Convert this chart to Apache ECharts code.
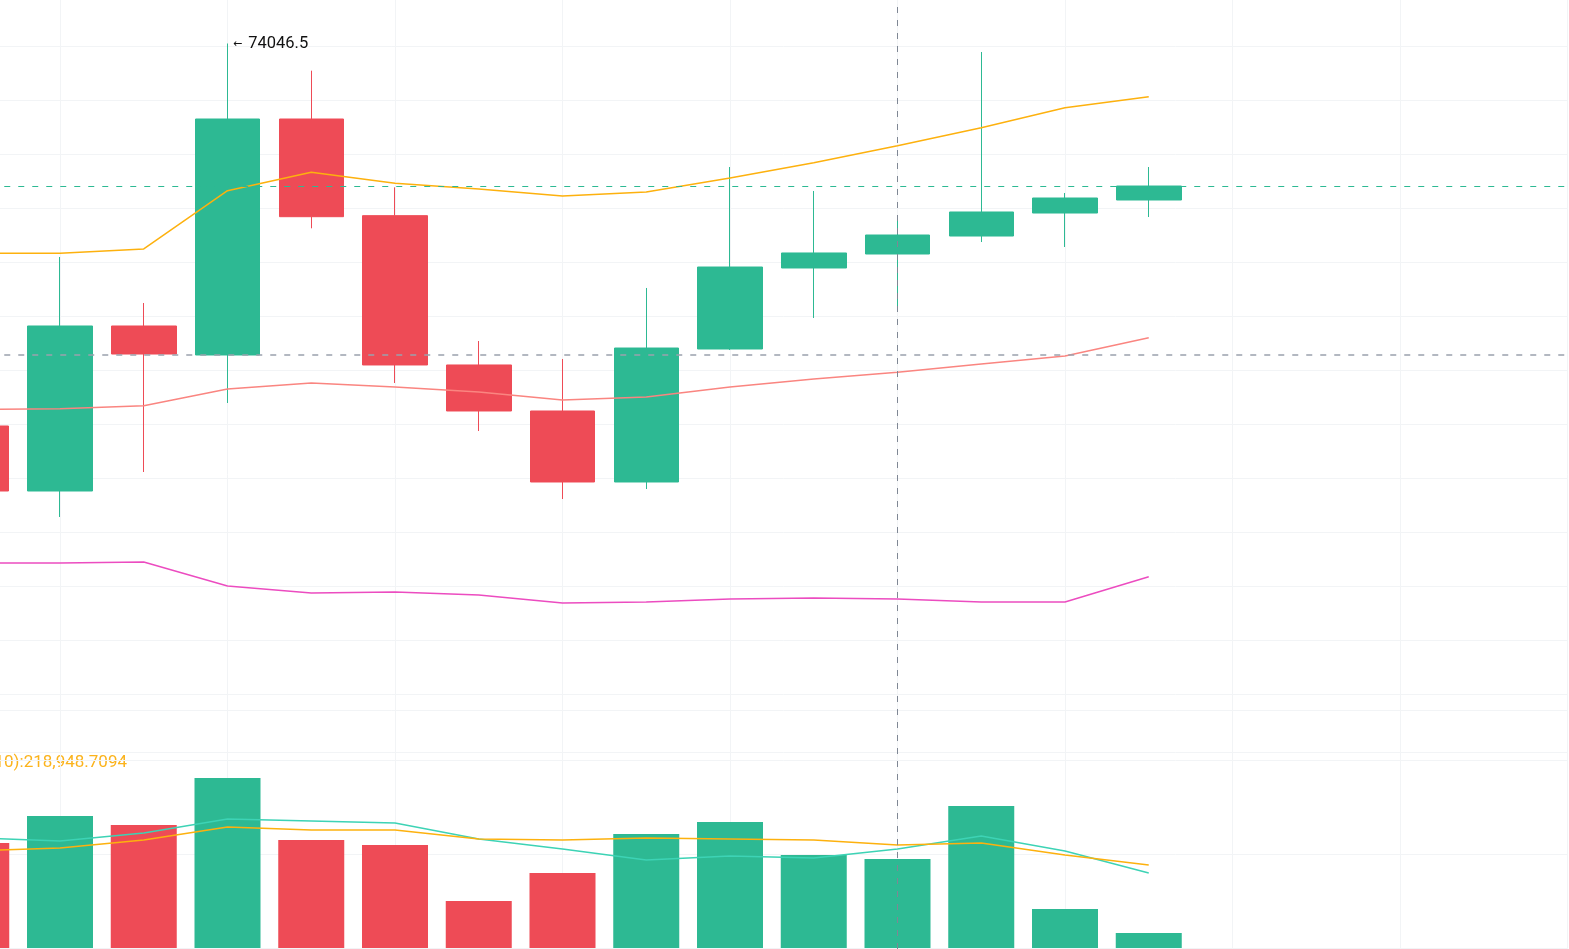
<!DOCTYPE html>
<html>
<head>
<meta charset="utf-8">
<script src="https://cdn.jsdelivr.net/npm/echarts@6/dist/echarts.min.js"></script>
<style>
  html, body { margin: 0; padding: 0; background: #fff; }
  #chart { width: 1569px; height: 949px; }
</style>
</head>
<body>
<div id="chart"></div>
<script>
// slots on the x axis, the last five are empty space to the right
var categories = ['0', '1', '2', '3', '4', '5', '6', '7', '8', '9', '10', '11', '12', '13', '14', '15', '16', '17', '18', '19']

var opens = [66963, 65759, 68815, 68278, 72648, 70858, 68093, 67241, 65926, 68389, 69889, 70148, 70481, 70907, 71148]
var closes = [65759, 68815, 68296, 72648, 70839, 68093, 67241, 65926, 68407, 69907, 70167, 70500, 70926, 71185, 71407]
var lows = [65500, 65278, 66111, 67389, 70624, 67759, 66870, 65611, 65796, 68370, 68963, 69185, 70370, 70278, 70833]
var highs = [67200, 70093, 69241, 74046.5, 73543, 71383, 68537, 68204, 69519, 71759, 71315, 70759, 73889, 71278, 71759]

var maOrange = [70161, 70161, 70241, 71320, 71661, 71457, 71352, 71222, 71296, 71556, 71839, 72154, 72487, 72857, 73061]
var maSalmon = [67272, 67283, 67339, 67648, 67759, 67685, 67593, 67444, 67500, 67685, 67833, 67957, 68111, 68259, 68598]
var maPink = [64426, 64426, 64444, 64000, 63870, 63889, 63833, 63685, 63704, 63759, 63778, 63759, 63704, 63704, 64172]

var volumes = [223404, 280851, 261702, 361702, 229787, 219149, 100000, 159574, 242553, 268085, 197872, 189362, 302128, 82979, 31915]
var volMaTeal = [234000, 227660, 244681, 274468, 270213, 265957, 231915, 210638, 187234, 195745, 191489, 210638, 238298, 206383, 159574]
var volMaOrange = [207000, 212766, 229787, 257447, 251064, 251064, 231915, 229787, 234043, 231915, 229787, 218948.7094, 223404, 197872, 176596]

var crossIndex = 11
var crossPrice = 68278

var upColor = '#2DB993'
var downColor = '#EE4B56'
var gridColor = '#f2f4f6'

var chart = echarts.init(document.getElementById('chart'))

var kData = opens.map(function (o, i) {
  return [o, closes[i], lows[i], highs[i]]
})
var volData = volumes.map(function (v, i) {
  return {
    value: v,
    itemStyle: { color: closes[i] >= opens[i] ? upColor : downColor }
  }
})
var empty = categories.map(function () { return '-' })

var volLabel = 'MA(10):' + volMaOrange[crossIndex].toLocaleString('en-US', { minimumFractionDigits: 4 })

var xBase = {
  type: 'category',
  data: categories,
  boundaryGap: false,
  axisTick: { show: false },
  axisLabel: { show: false },
  axisLine: { show: false },
  splitLine: { show: false }
}

var option = {
  animation: false,
  backgroundColor: '#fff',
  textStyle: { fontFamily: 'Roboto' },
  grid: [
    { left: -23.75, right: 1.5, top: -8, height: 702, outerBoundsMode: 'none' },
    { left: -23.75, right: 1.5, top: 752, bottom: 1, outerBoundsMode: 'none' },
    { left: -23.75, right: 1.5, top: 0, bottom: 0, outerBoundsMode: 'none' }
  ],
  graphic: [
    {
      type: 'text',
      x: 127,
      y: 763,
      style: {
        text: volLabel,
        fill: '#FBB31C',
        font: '17px Roboto',
        align: 'right',
        verticalAlign: 'middle'
      }
    }
  ],
  xAxis: [
    Object.assign({}, xBase, {
      gridIndex: 0,
      offset: 16,
      axisLine: { show: true, lineStyle: { color: gridColor } }
    }),
    Object.assign({}, xBase, { gridIndex: 1 }),
    Object.assign({}, xBase, {
      gridIndex: 2,
      splitLine: {
        show: true,
        interval: function (idx) { return idx % 2 === 1 },
        lineStyle: { color: gridColor }
      }
    })
  ],
  yAxis: [
    {
      gridIndex: 0,
      type: 'value',
      min: 62000,
      max: 75000,
      interval: 1000,
      axisLabel: { show: false },
      axisLine: { show: false },
      axisTick: { show: false },
      splitLine: { lineStyle: { color: gridColor } }
    },
    {
      gridIndex: 1,
      type: 'value',
      min: 0,
      max: 417021,
      interval: 200000,
      axisLabel: { show: false },
      axisLine: { show: false },
      axisTick: { show: false },
      splitLine: { lineStyle: { color: gridColor } }
    },
    {
      gridIndex: 2,
      type: 'value',
      min: 0,
      max: 1,
      show: false,
      splitLine: { show: false }
    }
  ],
  series: [
    {
      name: 'K',
      type: 'candlestick',
      xAxisIndex: 0,
      yAxisIndex: 0,
      data: kData,
      barWidth: 65,
      barMaxWidth: 100,
      itemStyle: {
        color: upColor,
        color0: downColor,
        borderColor: upColor,
        borderColor0: downColor,
        borderWidth: 1
      },
      markPoint: {
        symbol: 'circle',
        symbolSize: 1,
        itemStyle: { color: 'rgba(0,0,0,0)' },
        label: {
          show: true,
          position: 'right',
          distance: 5,
          color: '#111',
          fontSize: 16.5,
          fontFamily: 'Roboto',
          formatter: function (p) { return '{a|\u2190}' + p.value },
          rich: {
            a: { fontFamily: 'DejaVu Sans', fontSize: 11, color: '#111', padding: [1, 6, 0, 0] }
          }
        },
        data: [{ type: 'max', valueDim: 'highest' }]
      },
      markLine: {
        silent: true,
        symbol: ['none', 'none'],
        label: { show: false },
        data: [
          { yAxis: closes[closes.length - 1], lineStyle: { color: upColor, type: [6, 8], width: 1 } },
          { yAxis: crossPrice, lineStyle: { color: '#9aa1ad', type: [6, 8], width: 1.5 } }
        ]
      }
    },
    {
      type: 'line', xAxisIndex: 0, yAxisIndex: 0, data: maOrange,
      symbol: 'none', lineStyle: { color: '#FDB10E', width: 1.5 }
    },
    {
      type: 'line', xAxisIndex: 0, yAxisIndex: 0, data: maSalmon,
      symbol: 'none', lineStyle: { color: '#FA8580', width: 1.5 }
    },
    {
      type: 'line', xAxisIndex: 0, yAxisIndex: 0, data: maPink,
      symbol: 'none', lineStyle: { color: '#EC4CC0', width: 1.5 }
    },
    {
      type: 'bar',
      xAxisIndex: 1,
      yAxisIndex: 1,
      data: volData,
      barWidth: 66
    },
    {
      type: 'line', xAxisIndex: 1, yAxisIndex: 1, data: volMaTeal,
      symbol: 'none', lineStyle: { color: '#3DD3B5', width: 1.5 }
    },
    {
      type: 'line', xAxisIndex: 1, yAxisIndex: 1, data: volMaOrange,
      symbol: 'none', lineStyle: { color: '#FDB10E', width: 1.5 }
    },
    {
      // only carries the vertical crosshair over the whole height
      type: 'line',
      xAxisIndex: 2,
      yAxisIndex: 2,
      data: empty,
      z: 10,
      markLine: {
        silent: true,
        symbol: ['none', 'none'],
        label: { show: false },
        lineStyle: { color: '#7f8794', type: [6, 7], width: 1 },
        data: [{ xAxis: crossIndex }]
      }
    }
  ]
}

chart.setOption(option)
</script>
</body>
</html>
